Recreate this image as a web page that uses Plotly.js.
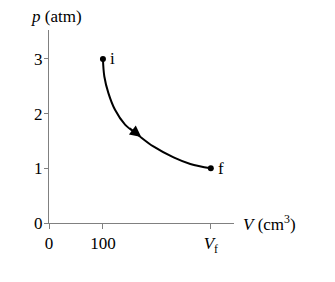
<!DOCTYPE html>
<html>
<head>
<meta charset="utf-8">
<script src="https://cdn.plot.ly/plotly-3.0.1.min.js"></script>
<style>html,body{margin:0;padding:0;background:#fff;}#chart{width:335px;height:282px;}</style>
</head>
<body>
<div id="chart"></div>
<script>
// Curve: volume (cm^3) and pressure (atm)
const curveV = [100, 102.6, 110, 122.4, 141, 165, 193.5, 231, 262, 300];
const curveP = [3.0, 2.68, 2.38, 2.07, 1.80, 1.61, 1.40, 1.20, 1.08, 1.0];
// End states
const stateV = [100, 300];
const stateP = [3, 1];
const stateLabels = ['i', 'f'];
// Direction arrow on the curve (tip)
const arrowV = [171];
const arrowP = [1.575];
// Tick labels
const xTickVals = [0, 100, 300];
const xTickText = ['0', '100', '<i>V</i><sub>f</sub>'];
const yTickVals = [0, 1, 2, 3];
const yTickText = ['0', '1', '2', '3'];

const serif = 'Liberation Serif, Times New Roman, serif';
const axisGray = '#808080';

const traces = [
  {
    x: curveV, y: curveP, mode: 'lines', type: 'scatter',
    line: {color: '#000', width: 2, shape: 'spline', smoothing: 1},
    hoverinfo: 'skip', showlegend: false
  },
  {
    x: stateV, y: stateP, mode: 'markers', type: 'scatter',
    marker: {color: '#000', size: 6},
    hoverinfo: 'skip', showlegend: false
  }
];

const stateAnnotations = stateV.map((v, i) => ({
  xref: 'x', yref: 'y', x: v, y: stateP[i],
  xanchor: 'left', yanchor: 'middle', xshift: 5, showarrow: false,
  text: stateLabels[i], font: {family: serif, size: 17, color: '#000'}
}));

const arrowAnnotations = arrowV.map((v, i) => ({
  xref: 'x', yref: 'y', x: v, y: arrowP[i],
  ax: -13, ay: -10, axref: 'pixel', ayref: 'pixel',
  showarrow: true, arrowhead: 2, arrowsize: 1.4, arrowwidth: 1.6,
  arrowcolor: '#000', text: ''
}));

const layout = {
  width: 335, height: 282,
  margin: {l: 49, r: 101, t: 30, b: 59, pad: 0},
  paper_bgcolor: '#fff', plot_bgcolor: '#fff',
  showlegend: false,
  font: {family: serif, size: 16, color: '#000'},
  xaxis: {
    range: [0, 343], showgrid: false, zeroline: false,
    showline: true, linecolor: axisGray, linewidth: 1,
    ticks: 'outside', ticklen: 5, tickcolor: axisGray, tickwidth: 1,
    tickvals: xTickVals, ticktext: xTickText,
    tickfont: {family: serif, size: 17, color: '#000'}
  },
  yaxis: {
    range: [0, 3.53], showgrid: false, zeroline: false,
    showline: true, linecolor: axisGray, linewidth: 1,
    ticks: 'outside', ticklen: 4, tickcolor: axisGray, tickwidth: 1,
    ticklabelstandoff: -2,
    tickvals: yTickVals, ticktext: yTickText,
    tickfont: {family: serif, size: 17, color: '#000'}
  },
  annotations: [
    {
      xref: 'paper', yref: 'paper', x: -0.11, y: 1.07,
      xanchor: 'left', yanchor: 'middle', showarrow: false,
      text: '<i>p</i> (atm)', font: {family: serif, size: 17, color: '#000'}
    },
    {
      xref: 'paper', yref: 'paper', x: 1.04, y: 0.0,
      xanchor: 'left', yanchor: 'middle', showarrow: false,
      text: '<i>V</i> (cm<sup>3</sup>)', font: {family: serif, size: 17, color: '#000'}
    }
  ].concat(stateAnnotations, arrowAnnotations)
};

Plotly.newPlot('chart', traces, layout, {displayModeBar: false, staticPlot: true});
</script>
</body>
</html>
